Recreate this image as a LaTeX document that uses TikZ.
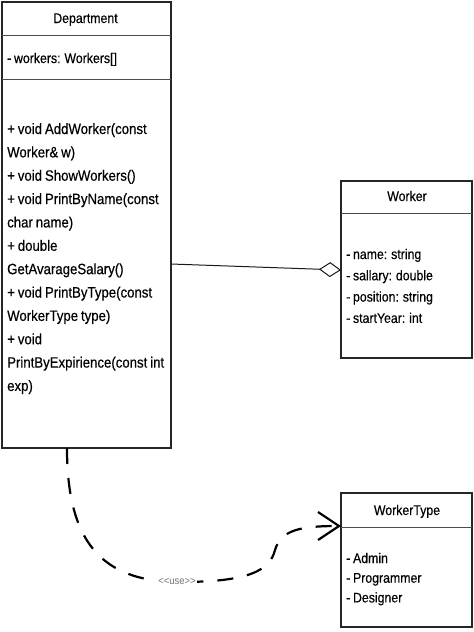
\documentclass[tikz,border=0pt]{standalone}
\usepackage{fontspec}
\setmainfont{Liberation Sans}[FakeStretch=0.88,FakeBold=0.4,WordSpace=0.8]
\newfontfamily\lblfont{Liberation Sans}[FakeStretch=0.9,Ligatures=ResetAll]
\usetikzlibrary{arrows.meta}
\begin{document}
\begin{tikzpicture}[x=1pt,y=1pt,
  classbox/.style={draw=black!85, line width=1.2pt, inner sep=0pt, outer sep=0pt},
  divider/.style={draw=black!70, line width=0.9pt},
  title/.style={font=\fontsize{14}{16}\selectfont, anchor=base, inner sep=0pt},
  item/.style={font=\fontsize{14}{16}\selectfont, anchor=base west, inner sep=0pt},
  method/.style={font=\fontsize{15}{17}\selectfont, anchor=base west, inner sep=0pt},
  aggline/.style={draw=black!90, line width=1pt},
  depline/.style={draw=black, line width=2.2pt, dash pattern=on 16pt off 14pt},
  lbl/.style={font=\lblfont\fontsize{10.5}{12}\selectfont, text=black!55, fill=white, inner sep=1.5pt}
]
\useasboundingbox (0,0) rectangle (474,-632);

% Department
\node[classbox, minimum width=169pt, minimum height=446pt] (dept) at (86.5,-225) {};
\draw[divider] ([yshift=-33pt]dept.north west) -- ([yshift=-33pt]dept.north east);
\draw[divider] ([yshift=-77pt]dept.north west) -- ([yshift=-77pt]dept.north east);
\node[title] (depttitle) at (85.5,-23) {Department};
\node[item] (dattr) at (7,-63) {- workers: Workers[]};
\foreach \t [count=\i from 0] in {%
  {+ void AddWorker(const},{Worker\& w)},{+ void ShowWorkers()},
  {+ void PrintByName(const},{char name)},{+ double},{GetAvarageSalary()},
  {+ void PrintByType(const},{WorkerType type)},{+ void},
  {PrintByExpirience(const int},{exp)}}
  \node[method] (dm\i) at (7,-134-23.36*\i) {\t};

% Worker
\node[classbox, minimum width=131pt, minimum height=177pt] (worker) at (406.5,-269.5) {};
\draw[divider] ([yshift=-32pt]worker.north west) -- ([yshift=-32pt]worker.north east);
\node[title] (workertitle) at (407,-201) {Worker};
\foreach \t [count=\i from 0] in {{- name: string},{- sallary: double},{- position: string},{- startYear: int}}
  \node[item] (wa\i) at (346,-259-21.3*\i) {\t};

% WorkerType
\node[classbox, minimum width=131pt, minimum height=134pt] (wtype) at (406.5,-560) {};
\draw[divider] ([yshift=-34pt]wtype.north west) -- ([yshift=-34pt]wtype.north east);
\node[title] (wtypetitle) at (407,-515) {WorkerType};
\foreach \t [count=\i from 0] in {{- Admin},{- Programmer},{- Designer}}
  \node[item] (wt\i) at (346,-563-19.7*\i) {\t};

% Aggregation
\draw[aggline, -{Diamond[open, length=22pt, width=15pt, line width=1pt]}]
  ([yshift=-39pt]dept.east) -- ([yshift=-0.5pt]worker.west);

% Dependency
\draw[depline, -{Straight Barb[length=21pt, width=28pt]}]
  ([xshift=65pt]dept.south west) .. controls (67,-540) and (100,-582) .. (180,-582)
  .. controls (250,-582) and (270,-570) .. (275,-550)
  .. controls (281,-530) and (300,-526) .. ([yshift=34pt]wtype.west);
\node[lbl] (uselbl) at (177,-581) {<<use>>};
\end{tikzpicture}
\end{document}
